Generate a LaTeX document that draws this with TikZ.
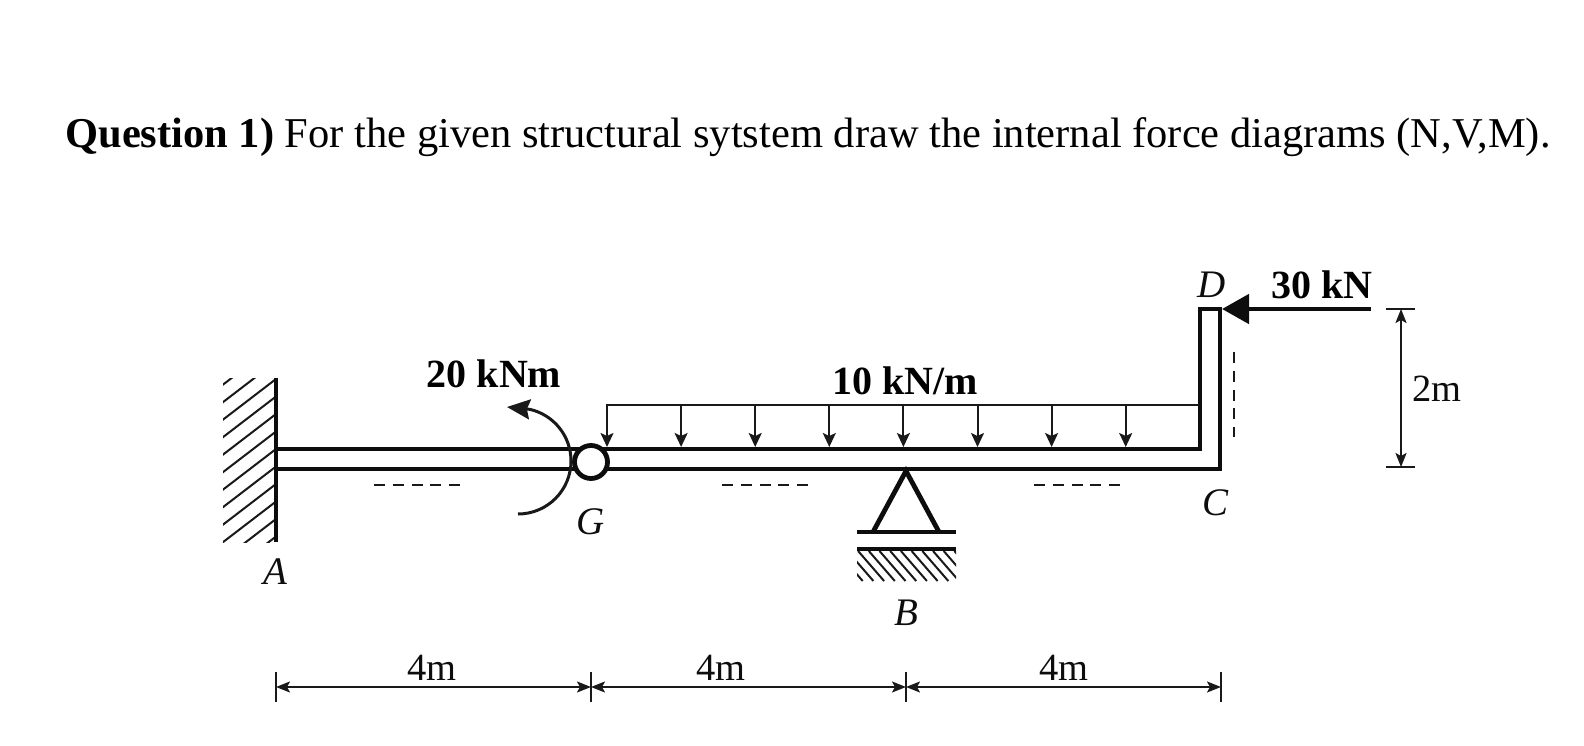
\documentclass[tikz,border=0pt]{standalone}
\usepackage{fontspec}
\setmainfont{Liberation Serif}
\usetikzlibrary{arrows.meta}

\begin{document}
\begin{tikzpicture}[x = 1pt, y = -1pt]
  \tikzstyle{member}=[line width = 4.8pt, black!95, line join = miter]
  \tikzstyle{hatch}=[line width = 2pt, black!90]
  \tikzstyle{loadarrow}=[line width = 2pt, black!90
    , -{Stealth[length = 14pt, width = 13pt, inset = 3pt]}
    ]
  \tikzstyle{dimline}=[line width = 2pt, black!90
    , {Stealth[length = 14pt, width = 11pt, inset = 3pt]}-{Stealth[length = 14pt, width = 11pt, inset = 3pt]}
    ]
  \tikzstyle{tick}=[line width = 2pt, black!90]
  \tikzstyle{fibre}=[line width = 2.2pt, black!90
    , dash pattern = on 11pt off 7.8pt
    ]
  \tikzstyle{value}=[font = \fontsize{38.5}{38.5}\selectfont, text = black!95, inner sep = 0pt]
  \tikzstyle{boldvalue}=[font = \fontsize{40}{40}\selectfont\bfseries, text = black, inner sep = 0pt]
  \tikzstyle{point}=[font = \fontsize{39}{39}\selectfont\itshape, text = black!95, inner sep = 0pt]

  \useasboundingbox (0, 0) rectangle (1584, 746);

  \node[inner sep = 0pt, text = black, font = \fontsize{42.5}{42.5}\selectfont] (title) at (808, 137)
    {\textbf{Question 1)} For the given structural sytstem draw the internal force diagrams (N,V,M).};

  \coordinate (A) at (276, 469);
  \coordinate (Atop) at (276, 449);
  \coordinate (Gtop) at (591, 449);
  \coordinate (Ctop) at (1200, 449);
  \coordinate (C) at (1220, 469);
  \coordinate (D) at (1220, 309);
  \coordinate (Dleft) at (1200, 309);
  \coordinate (wallTop) at (276, 378);
  \coordinate (wallEnd) at (276, 542);

  \begin{scope}
    \clip (223, 378) rectangle (276, 542);
    \foreach \h in {344, 361.5, ..., 540} {
      \draw[hatch] (276, \h) -- (216, \h + 46);
    }
  \end{scope}
  \draw[member] (wallTop) -- (wallEnd);

  \draw[member] (Atop) -- (Gtop) -- (Ctop) -- (Dleft) -- (D) -- (C) -- (A);

  \coordinate (loadStart) at (606, 405);
  \coordinate (loadEnd) at (1199, 405);
  \draw[line width = 2pt, black!90] (loadStart) -- (loadEnd);
  \foreach \i in {0, ..., 7} {
    \coordinate (loadTop\i) at (607 + 74.1 * \i, 405);
    \coordinate (loadTip\i) at (607 + 74.1 * \i, 447);
    \draw[loadarrow] (loadTop\i) -- (loadTip\i);
  }

  \coordinate (momentEnd) at (518, 514);
  \coordinate (momentTip) at (507, 407);
  \draw[line width = 3pt, black!90, -{Stealth[length = 23pt, width = 20pt, inset = 3pt]}]
    (momentEnd) arc[start angle = 90, end angle = -77, radius = 53] -- (momentTip);

  \node[circle, draw = black!95, fill = white, line width = 4.8pt, minimum size = 33pt, inner sep = 0pt] (G) at (591, 462) { };

  \coordinate (supTip) at (906, 471);
  \coordinate (supLeft) at (873, 532);
  \coordinate (supRight) at (939, 532);
  \draw[line width = 4.8pt, black!95, line join = miter] (supLeft) -- (supTip) -- (supRight);
  \draw[member] (857, 532) -- (956, 532);
  \draw[member] (857, 549) -- (956, 549);
  \begin{scope}
    \clip (857, 551) rectangle (956, 581);
    \foreach \h in {826, 836.7, ..., 960} {
      \draw[hatch] (\h, 551) -- (\h + 26, 581);
    }
  \end{scope}

  \draw[fibre] (374, 485) -- (460, 485);
  \draw[fibre] (722, 485) -- (808, 485);
  \draw[fibre] (1034, 485) -- (1120, 485);
  \draw[fibre] (1234, 352) -- (1234, 437);

  \coordinate (forceEnd) at (1371, 309);
  \coordinate (forceTip) at (1222, 309);
  \draw[line width = 4.8pt, black!95, -{Triangle[length = 27pt, width = 29pt]}] (forceEnd) -- (forceTip);

  \coordinate (dimTop) at (1401, 309);
  \coordinate (dimBottom) at (1401, 467);
  \draw[tick] (1386, 309) -- (1415, 309);
  \draw[tick] (1386, 467) -- (1415, 467);
  \draw[dimline] (dimTop) -- (dimBottom);

  \foreach \x [count = \i] in {276, 591, 906, 1221} {
    \coordinate (dim\i) at (\x, 687);
    \draw[tick] (\x, 672) -- (\x, 702);
  }
  \draw[dimline] (dim1) -- (dim2);
  \draw[dimline] (dim2) -- (dim3);
  \draw[dimline] (dim3) -- (dim4);

  \node[boldvalue] (moment) at (494, 374) {20 kNm};
  \node[boldvalue] (load) at (905, 381) {10 kN/m};
  \node[boldvalue] (force) at (1322, 285) {30 kN};
  \node[value] (height) at (1437, 389) {2m};
  \node[value] (spanA) at (432, 668) {4m};
  \node[value] (spanB) at (721, 668) {4m};
  \node[value] (spanC) at (1064, 668) {4m};
  \node[point] (labelA) at (275, 572) {A};
  \node[point] (labelG) at (591, 522) {G};
  \node[point] (labelB) at (906, 613) {B};
  \node[point] (labelC) at (1215, 503) {C};
  \node[point] (labelD) at (1212, 285) {D};
\end{tikzpicture}
\end{document}
